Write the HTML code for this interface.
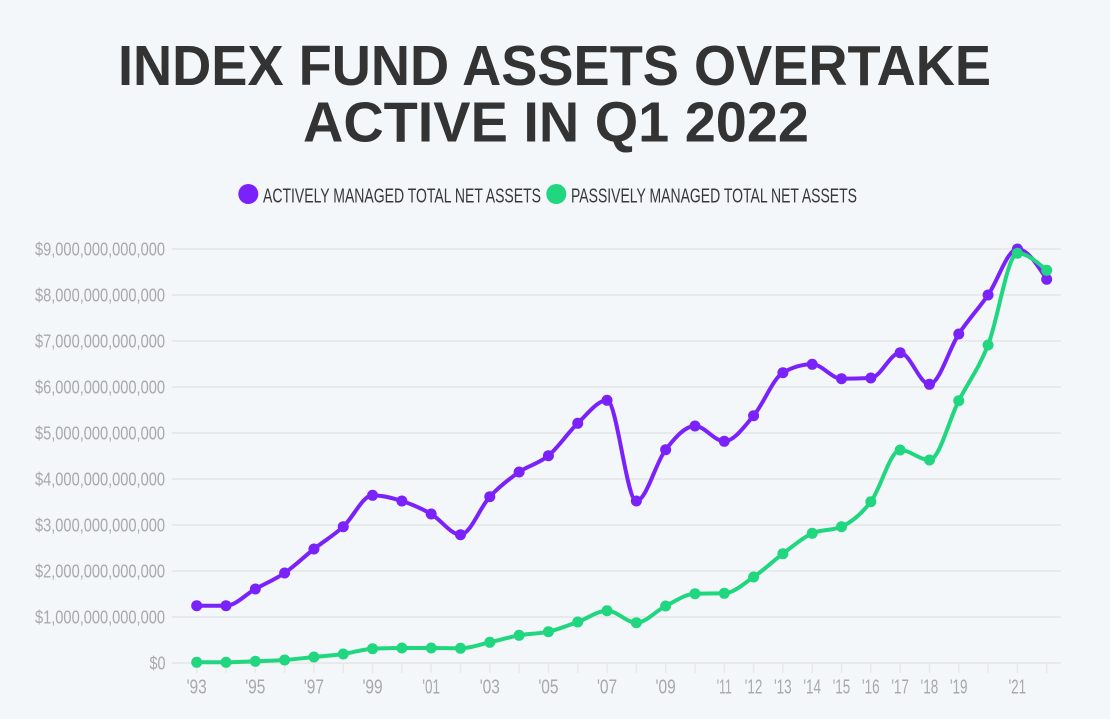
<!DOCTYPE html>
<html>
<head>
<meta charset="utf-8">
<style>
  html,body{margin:0;padding:0;background:#f3f7fa;}
  body{width:1110px;height:719px;overflow:hidden;}
  svg{display:block;}
  text{font-family:"Liberation Sans",sans-serif;}
</style>
</head>
<body>
<svg id="chart" width="1110" height="719" viewBox="0 0 1110 719" xmlns="http://www.w3.org/2000/svg">
  <rect x="0" y="0" width="1110" height="719" fill="#f3f7fa"/>
  <!-- Title -->
  <text x="118" y="85" font-size="57" font-weight="bold" fill="#333333" textLength="873" lengthAdjust="spacingAndGlyphs">INDEX FUND ASSETS OVERTAKE</text>
  <text x="303" y="141.7" font-size="57" font-weight="bold" fill="#333333" textLength="506" lengthAdjust="spacingAndGlyphs">ACTIVE IN Q1 2022</text>
  <!-- Legend -->
  <circle cx="248.3" cy="194" r="10" fill="#7b22fb"/>
  <text x="263" y="202.3" font-size="20.5" fill="#383838" textLength="278" lengthAdjust="spacingAndGlyphs">ACTIVELY MANAGED TOTAL NET ASSETS</text>
  <circle cx="556.3" cy="194" r="10" fill="#20d67e"/>
  <text x="571" y="202.3" font-size="20.5" fill="#383838" textLength="286" lengthAdjust="spacingAndGlyphs">PASSIVELY MANAGED TOTAL NET ASSETS</text>
  <g id="grid"></g>
  <g id="ylabels"></g>
  <g id="xlabels"></g>
  <g id="series"></g>
</svg>
<script>
(function(){
  var NS="http://www.w3.org/2000/svg";
  function el(tag, attrs, parent, txt){
    var e=document.createElementNS(NS,tag);
    for(var k in attrs) e.setAttribute(k, attrs[k]);
    if(txt!==undefined) e.textContent=txt;
    parent.appendChild(e); return e;
  }
  var grid=document.getElementById('grid');
  var yl=document.getElementById('ylabels');
  var xl=document.getElementById('xlabels');
  var ser=document.getElementById('series');
  var x0=196.7, dx=29.31;
  function X(i){return x0+i*dx;}
  // gridlines
  var labels=["$0","$1,000,000,000,000","$2,000,000,000,000","$3,000,000,000,000","$4,000,000,000,000","$5,000,000,000,000","$6,000,000,000,000","$7,000,000,000,000","$8,000,000,000,000","$9,000,000,000,000"];
  for(var g=0; g<=9; g++){
    var y=663-46*g;
    el('line',{x1:171.7,x2:1061,y1:y,y2:y,stroke:'#e8e9ea','stroke-width':2},grid);
    if(g===0){
      el('text',{x:149.5,y:y+6.6,'font-size':18,fill:'#a9a9a9',textLength:16,lengthAdjust:'spacingAndGlyphs'},yl,labels[g]);
    } else {
      el('text',{x:35,y:y+6.6,'font-size':18,fill:'#a9a9a9',textLength:130,lengthAdjust:'spacingAndGlyphs'},yl,labels[g]);
    }
  }
  // ticks
  for(var i=0;i<30;i++){
    el('line',{x1:X(i),x2:X(i),y1:663,y2:673,stroke:'#e8e9ea','stroke-width':1.5},grid);
  }
  // x labels
  var xlab={0:"'93",2:"'95",4:"'97",6:"'99",8:"'01",10:"'03",12:"'05",14:"'07",16:"'09",18:"'11",19:"'12",20:"'13",21:"'14",22:"'15",23:"'16",24:"'17",25:"'18",26:"'19",28:"'21"};
  for(var k in xlab){
    var s=xlab[k]; var w=3;
    for(var c=1;c<s.length;c++){ w += (s[c]==='1')?6:8.6; }
    var cx=X(+k);
    el('text',{x:cx-w/2,y:693.3,'font-size':20,fill:'#a9a9a9',textLength:w,lengthAdjust:'spacingAndGlyphs'},xl,s);
  }
  var active=[605.7,605.7,589,573,549,526.7,495.3,501,514,534.7,496.7,472,455.7,423.3,400.3,501,449.7,426,441.3,415.7,372.7,364.3,378.7,378,352.7,384.3,334,295,249,279.3];
  var passive=[662.3,662.3,661.3,660,657,654,648.7,648,648,648.3,642.3,635.3,631.7,622,610.7,622.7,606,593.7,593.3,577,553.7,533.3,526.7,501.7,450,460,400.7,345,253.3,270.3];
  function sign(v){return v<0?-1:1;}
  function monotone(ys){
    var n=ys.length, xs=[], t=[];
    for(var i=0;i<n;i++) xs.push(X(i));
    for(var i=1;i<n-1;i++){
      var h0=xs[i]-xs[i-1], h1=xs[i+1]-xs[i];
      var s0=(ys[i]-ys[i-1])/h0, s1=(ys[i+1]-ys[i])/h1;
      var p=(s0*h1+s1*h0)/(h0+h1);
      t[i]=(sign(s0)+sign(s1))*Math.min(Math.abs(s0),Math.abs(s1),0.5*Math.abs(p))||0;
    }
    var h=xs[1]-xs[0];
    t[0]=(3*(ys[1]-ys[0])/h - t[1])/2;
    h=xs[n-1]-xs[n-2];
    t[n-1]=(3*(ys[n-1]-ys[n-2])/h - t[n-2])/2;
    var d="M"+xs[0]+","+ys[0];
    for(var i=0;i<n-1;i++){
      var d3=(xs[i+1]-xs[i])/3;
      d+=" C"+(xs[i]+d3)+","+(ys[i]+d3*t[i])+" "+(xs[i+1]-d3)+","+(ys[i+1]-d3*t[i+1])+" "+xs[i+1]+","+ys[i+1];
    }
    return d;
  }
  function draw(ys,color){
    el('path',{d:monotone(ys),fill:'none',stroke:color,'stroke-width':4,'stroke-linejoin':'round','stroke-linecap':'round'},ser);
    for(var i=0;i<ys.length;i++){
      el('circle',{cx:X(i),cy:ys[i],r:5.5,fill:color},ser);
    }
  }
  draw(active,'#7b22fb');
  draw(passive,'#20d67e');
})();
</script>
</body>
</html>
